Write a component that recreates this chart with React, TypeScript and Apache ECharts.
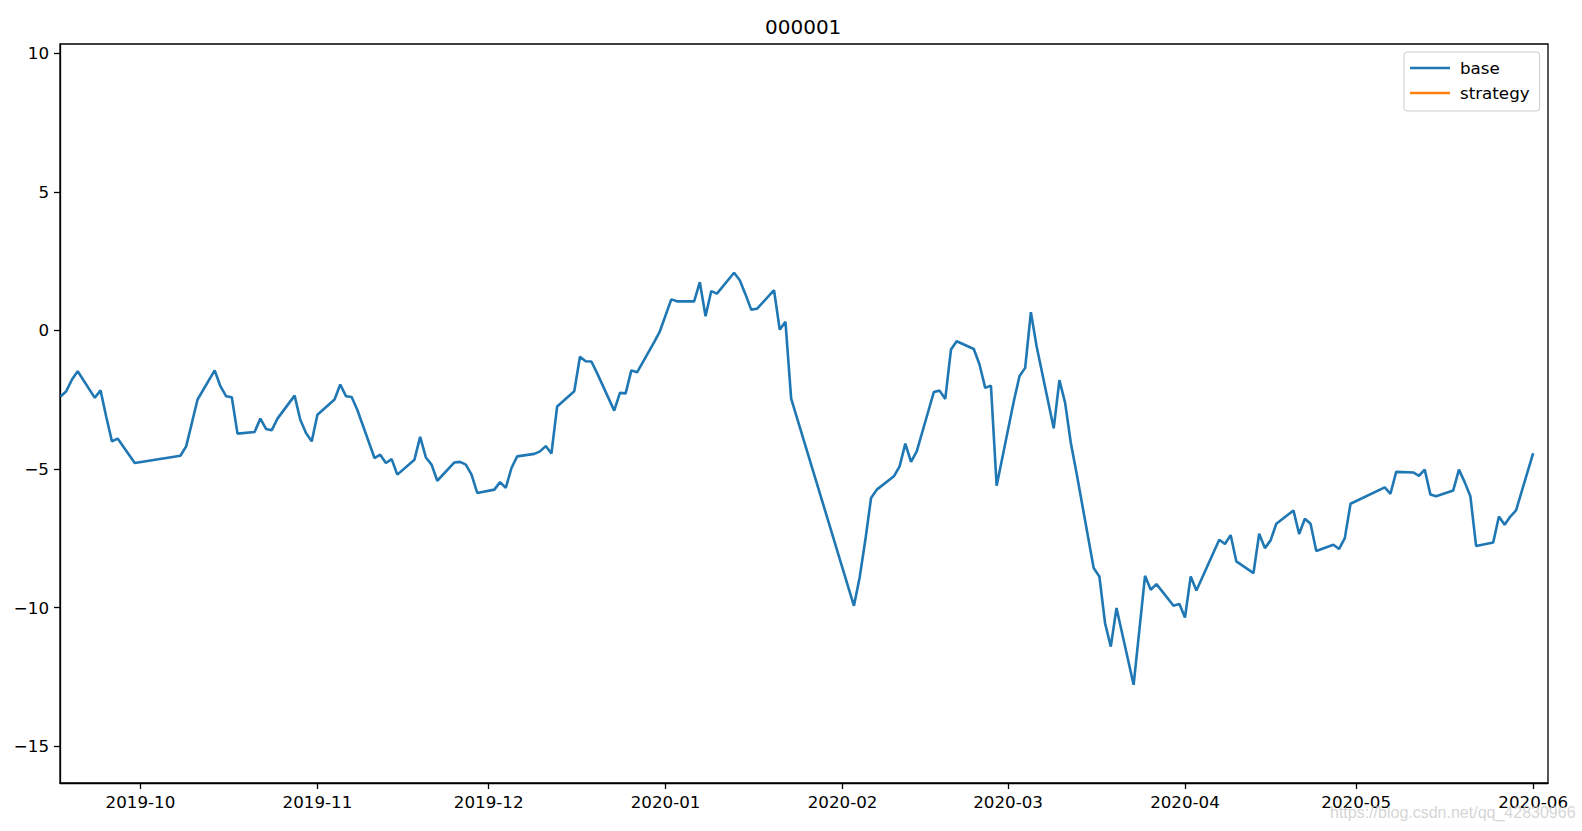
import { useEffect, useRef } from 'react';
import * as echarts from 'echarts';

const titleText = '000001';
const seriesNames = ['base', 'strategy'];

const dates = [
  '2019-09-17', '2019-09-18', '2019-09-19', '2019-09-20', '2019-09-23', '2019-09-24', '2019-09-25', '2019-09-26', '2019-09-27', '2019-09-30',
  '2019-10-08', '2019-10-09', '2019-10-10', '2019-10-11', '2019-10-14', '2019-10-15', '2019-10-16', '2019-10-17', '2019-10-18',
  '2019-10-21', '2019-10-22', '2019-10-23', '2019-10-24', '2019-10-25', '2019-10-28', '2019-10-29', '2019-10-30', '2019-10-31',
  '2019-11-01', '2019-11-04', '2019-11-05', '2019-11-06', '2019-11-07', '2019-11-08', '2019-11-11', '2019-11-12', '2019-11-13',
  '2019-11-14', '2019-11-15', '2019-11-18', '2019-11-19', '2019-11-20', '2019-11-21', '2019-11-22', '2019-11-25', '2019-11-26',
  '2019-11-27', '2019-11-28', '2019-11-29',
  '2019-12-02', '2019-12-03', '2019-12-04', '2019-12-05', '2019-12-06', '2019-12-09', '2019-12-10', '2019-12-11', '2019-12-12',
  '2019-12-13', '2019-12-16', '2019-12-17', '2019-12-18', '2019-12-19', '2019-12-20', '2019-12-23', '2019-12-24', '2019-12-25',
  '2019-12-26', '2019-12-27', '2019-12-30', '2019-12-31',
  '2020-01-02', '2020-01-03', '2020-01-06', '2020-01-07', '2020-01-08', '2020-01-09', '2020-01-10', '2020-01-13', '2020-01-14',
  '2020-01-15', '2020-01-16', '2020-01-17', '2020-01-20', '2020-01-21', '2020-01-22', '2020-01-23',
  '2020-02-03', '2020-02-04', '2020-02-05', '2020-02-06', '2020-02-07', '2020-02-10', '2020-02-11', '2020-02-12', '2020-02-13',
  '2020-02-14', '2020-02-17', '2020-02-18', '2020-02-19', '2020-02-20', '2020-02-21', '2020-02-24', '2020-02-25', '2020-02-26',
  '2020-02-27', '2020-02-28',
  '2020-03-02', '2020-03-03', '2020-03-04', '2020-03-05', '2020-03-06', '2020-03-09', '2020-03-10', '2020-03-11', '2020-03-12',
  '2020-03-13', '2020-03-16', '2020-03-17', '2020-03-18', '2020-03-19', '2020-03-20', '2020-03-23', '2020-03-24', '2020-03-25',
  '2020-03-26', '2020-03-27', '2020-03-30', '2020-03-31',
  '2020-04-01', '2020-04-02', '2020-04-03', '2020-04-07', '2020-04-08', '2020-04-09', '2020-04-10', '2020-04-13', '2020-04-14',
  '2020-04-15', '2020-04-16', '2020-04-17', '2020-04-20', '2020-04-21', '2020-04-22', '2020-04-23', '2020-04-24', '2020-04-27',
  '2020-04-28', '2020-04-29', '2020-04-30',
  '2020-05-06', '2020-05-07', '2020-05-08', '2020-05-11', '2020-05-12', '2020-05-13', '2020-05-14', '2020-05-15', '2020-05-18',
  '2020-05-19', '2020-05-20', '2020-05-21', '2020-05-22', '2020-05-25', '2020-05-26', '2020-05-27', '2020-05-28', '2020-05-29',
  '2020-06-01',
];

const baseValues = [
  -2.38, -2.19, -1.77, -1.47, -2.43, -2.16, -3.11, -4.0, -3.9, -4.78,
  -4.52, -4.18, -3.34, -2.49, -1.44, -2.01, -2.37, -2.41, -3.72,
  -3.66, -3.18, -3.55, -3.6, -3.18, -2.35, -3.22, -3.7, -4.0,
  -3.04, -2.49, -1.95, -2.37, -2.4, -2.87, -4.6, -4.48, -4.78,
  -4.64, -5.2, -4.66, -3.84, -4.58, -4.84, -5.42, -4.76, -4.74,
  -4.84, -5.2, -5.86,
  -5.74, -5.47, -5.68, -4.96, -4.54, -4.45, -4.36, -4.17, -4.44,
  -2.74, -2.19, -0.95, -1.11, -1.12, -1.54, -2.89, -2.25, -2.27,
  -1.44, -1.51, -0.42, -0.03,
  1.12, 1.05, 1.05, 1.74, 0.51, 1.42, 1.33, 2.08, 1.81,
  1.3, 0.75, 0.78, 1.45, 0.03, 0.31, -2.46,
  -9.93, -8.91, -7.55, -6.04, -5.74, -5.26, -4.9, -4.08, -4.74,
  -4.36, -2.22, -2.17, -2.47, -0.69, -0.39, -0.67, -1.23, -2.07,
  -1.99, -5.6,
  -2.56, -1.65, -1.35, 0.66, -0.57, -3.53, -1.79, -2.61, -4.06,
  -5.14, -8.57, -8.87, -10.56, -11.4, -10.01, -12.78, -10.82, -8.85,
  -9.35, -9.15, -9.93, -9.86,
  -10.35, -8.87, -9.38, -7.55, -7.7, -7.38, -8.33, -8.75, -7.33,
  -7.85, -7.57, -6.97, -6.49, -7.34, -6.79, -6.97, -7.95, -7.73,
  -7.88, -7.49, -6.25,
  -5.66, -5.89, -5.1, -5.12, -5.24, -5.02, -5.92, -5.98, -5.77,
  -5.02, -5.47, -5.98, -7.77, -7.65, -6.71, -7.01, -6.71, -6.49,
  -4.42,
];

const strategyValues: number[] = [];

const monthTicks = [
  '2019-10-01', '2019-11-01', '2019-12-01', '2020-01-01', '2020-02-01',
  '2020-03-01', '2020-04-01', '2020-05-01', '2020-06-01',
];
const yTicks = [-15, -10, -5, 0, 5, 10];
const watermarkText = 'https://blog.csdn.net/qq_42830966';

function parseLocal(s: string): number {
  const [y, m, d] = s.split('-').map(Number);
  return new Date(y, m - 1, d).getTime();
}

function pad2(n: number) {
  return n < 10 ? '0' + n : String(n);
}

export default function App() {
  const ref = useRef<HTMLDivElement>(null);

  useEffect(() => {
    const chart = echarts.init(ref.current!, null, { renderer: 'svg' });
    const DAY = 864e5;
    const xMin = parseLocal('2019-09-17') - 0.1 * DAY;
    const xMax = parseLocal('2020-06-03') + 0.6 * DAY;
    const font = 'DejaVu Sans';
    const monthTickValues = monthTicks.map(parseLocal);

    chart.setOption({
      animation: false,
      backgroundColor: '#ffffff',
      title: {
        text: titleText,
        left: 765,
        top: 17,
        padding: 0,
        textStyle: { fontFamily: font, fontSize: 20, fontWeight: 'normal', color: '#000' },
      },
      legend: {
        data: seriesNames,
        orient: 'vertical',
        left: 1404,
        top: 52,
        padding: [6, 10, 8, 6],
        itemWidth: 40,
        itemHeight: 2.5,
        itemGap: 5,
        icon: 'rect',
        borderColor: '#cccccc',
        borderWidth: 1,
        borderRadius: 3,
        backgroundColor: 'rgba(255,255,255,0.8)',
        textStyle: {
          fontFamily: font,
          fontSize: 16.7,
          color: '#000',
          lineHeight: 20,
          padding: [0, 0, 0, 5],
        },
      },
      grid: {
        left: 60,
        right: 34,
        top: 44,
        bottom: 48,
        show: true,
        borderColor: '#000',
        borderWidth: 1.3,
        containLabel: false,
      },
      xAxis: {
        type: 'value',
        min: xMin,
        max: xMax,
        scale: true,
        axisLine: { show: true, onZero: false, lineStyle: { color: '#000', width: 1.3 } },
        splitLine: { show: false },
        axisTick: {
          show: true,
          length: 6,
          lineStyle: { color: '#000', width: 1.3 },
          customValues: monthTickValues,
        },
        axisLabel: {
          customValues: monthTickValues,
          formatter: (v: number) => {
            const d = new Date(v);
            return d.getFullYear() + '-' + pad2(d.getMonth() + 1);
          },
          color: '#000',
          fontFamily: font,
          fontSize: 16.7,
          margin: 10,
          hideOverlap: false,
        },
      },
      yAxis: {
        type: 'value',
        min: -16.32,
        max: 10.33,
        axisLine: { show: true, onZero: false, lineStyle: { color: '#000', width: 1.3 } },
        splitLine: { show: false },
        axisTick: {
          show: true,
          length: 6,
          lineStyle: { color: '#000', width: 1.3 },
          customValues: yTicks,
        },
        axisLabel: {
          customValues: yTicks,
          formatter: (v: number) => (v < 0 ? '\u2212' + Math.abs(v) : String(v)),
          color: '#000',
          fontFamily: font,
          fontSize: 16.7,
          margin: 11,
        },
      },
      series: [
        {
          name: seriesNames[0],
          type: 'line',
          data: dates.map((d, i) => [parseLocal(d), baseValues[i]]),
          showSymbol: false,
          symbol: 'none',
          color: '#1f77b4',
          lineStyle: { width: 2.6, color: '#1f77b4' },
          itemStyle: { color: '#1f77b4' },
        },
        {
          name: seriesNames[1],
          type: 'line',
          data: strategyValues,
          showSymbol: false,
          symbol: 'none',
          color: '#ff7f0e',
          lineStyle: { width: 2.6, color: '#ff7f0e' },
          itemStyle: { color: '#ff7f0e' },
        },
      ],
      graphic: [
        {
          type: 'text',
          x: 1330,
          y: 812,
          z: 100,
          style: {
            text: watermarkText,
            fill: 'rgba(205,205,205,0.85)',
            fontFamily: 'Liberation Sans',
            fontSize: 16,
            textVerticalAlign: 'middle',
          },
        },
      ],
    });

    return () => chart.dispose();
  }, []);

  return (
    <div
      ref={ref}
      style={{ position: 'fixed', left: 0, top: 0, width: 1582, height: 831, background: '#fff' }}
    />
  );
}
